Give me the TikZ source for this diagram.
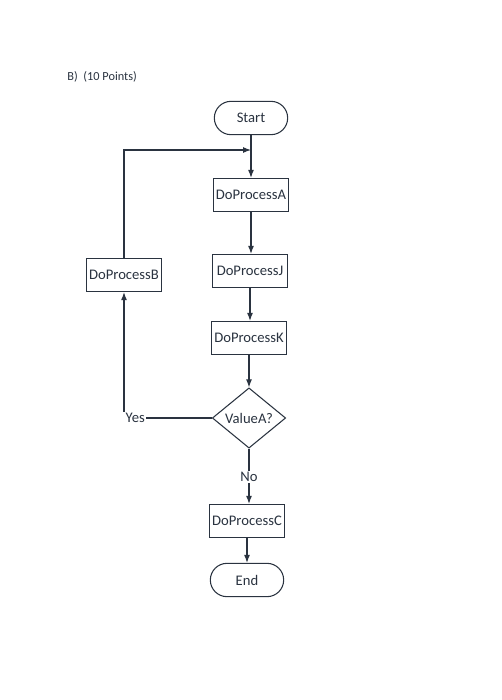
\documentclass[tikz,border=0pt]{standalone}
\usepackage{fontspec}
\setmainfont{Carlito}
\usetikzlibrary{arrows.meta,positioning,calc,shapes.geometric}
\definecolor{Ink}{HTML}{2A3340}
\definecolor{Paper}{HTML}{FFFFFF}

\begin{document}
\begin{tikzpicture}[x=0.03cm, y=-0.03cm, line width=0.9pt, draw=Ink, text=Ink,
    every node/.style={align=center, font=\fontsize{12.5}{15}\selectfont},
    terminal/.style={draw=Ink, rounded corners=0.5cm, minimum width=2.2cm, minimum height=1cm, inner sep=2pt},
    procbox/.style={draw=Ink, minimum width=2.25cm, minimum height=1cm, inner sep=1.5pt},
    decision/.style={draw=Ink, diamond, minimum width=2.2cm, minimum height=1.8cm, inner sep=0.5pt},
    flow/.style={-{Latex[length=2.4mm, width=1.8mm]}, Ink}]
      \fill[Paper] (0,0) rectangle (501,700);
      \useasboundingbox (0,0) rectangle (501,700);

      \node[anchor=west, font=\fontsize{10.5}{12}\selectfont] (title) at (63,77) {B)\ \ (10 Points)};

      \node[terminal] (start) at (251,118) {Start};
      \node[procbox] (pa) at (251,195) {DoProcessA};
      \node[procbox] (pj) at (250,271) {DoProcessJ};
      \node[procbox] (pb) at (124,275) {DoProcessB};
      \node[procbox] (pk) at (249,338) {DoProcessK};
      \node[decision] (value) at (249,418) {ValueA?};
      \node[inner sep=1pt] (no) at (249,477) {No};
      \node[procbox] (pc) at (247,521) {DoProcessC};
      \node[terminal] (finish) at (247,580) {End};
      \node[anchor=west, inner sep=1pt] (yes) at (124,418) {Yes};
      \coordinate (join) at (251,150);

      \draw[flow] (start) -- (pa);
      \draw[flow] (pa.south) -- (pa.south |- pj.north);
      \draw[flow] (pj.south) -- (pj.south |- pk.north);
      \draw[flow] (pk) -- (value);
      \draw (value.south) -- (no);
      \draw[flow] (no.south) -- (no.south |- pc.north);
      \draw[flow] (pc) -- (finish);
      \draw (value.west) -- (yes);
      \draw[flow] (yes.north west) -- (yes.north west |- pb.south);
      \draw[flow] (pb.north) |- (join);
    \end{tikzpicture}
\end{document}
